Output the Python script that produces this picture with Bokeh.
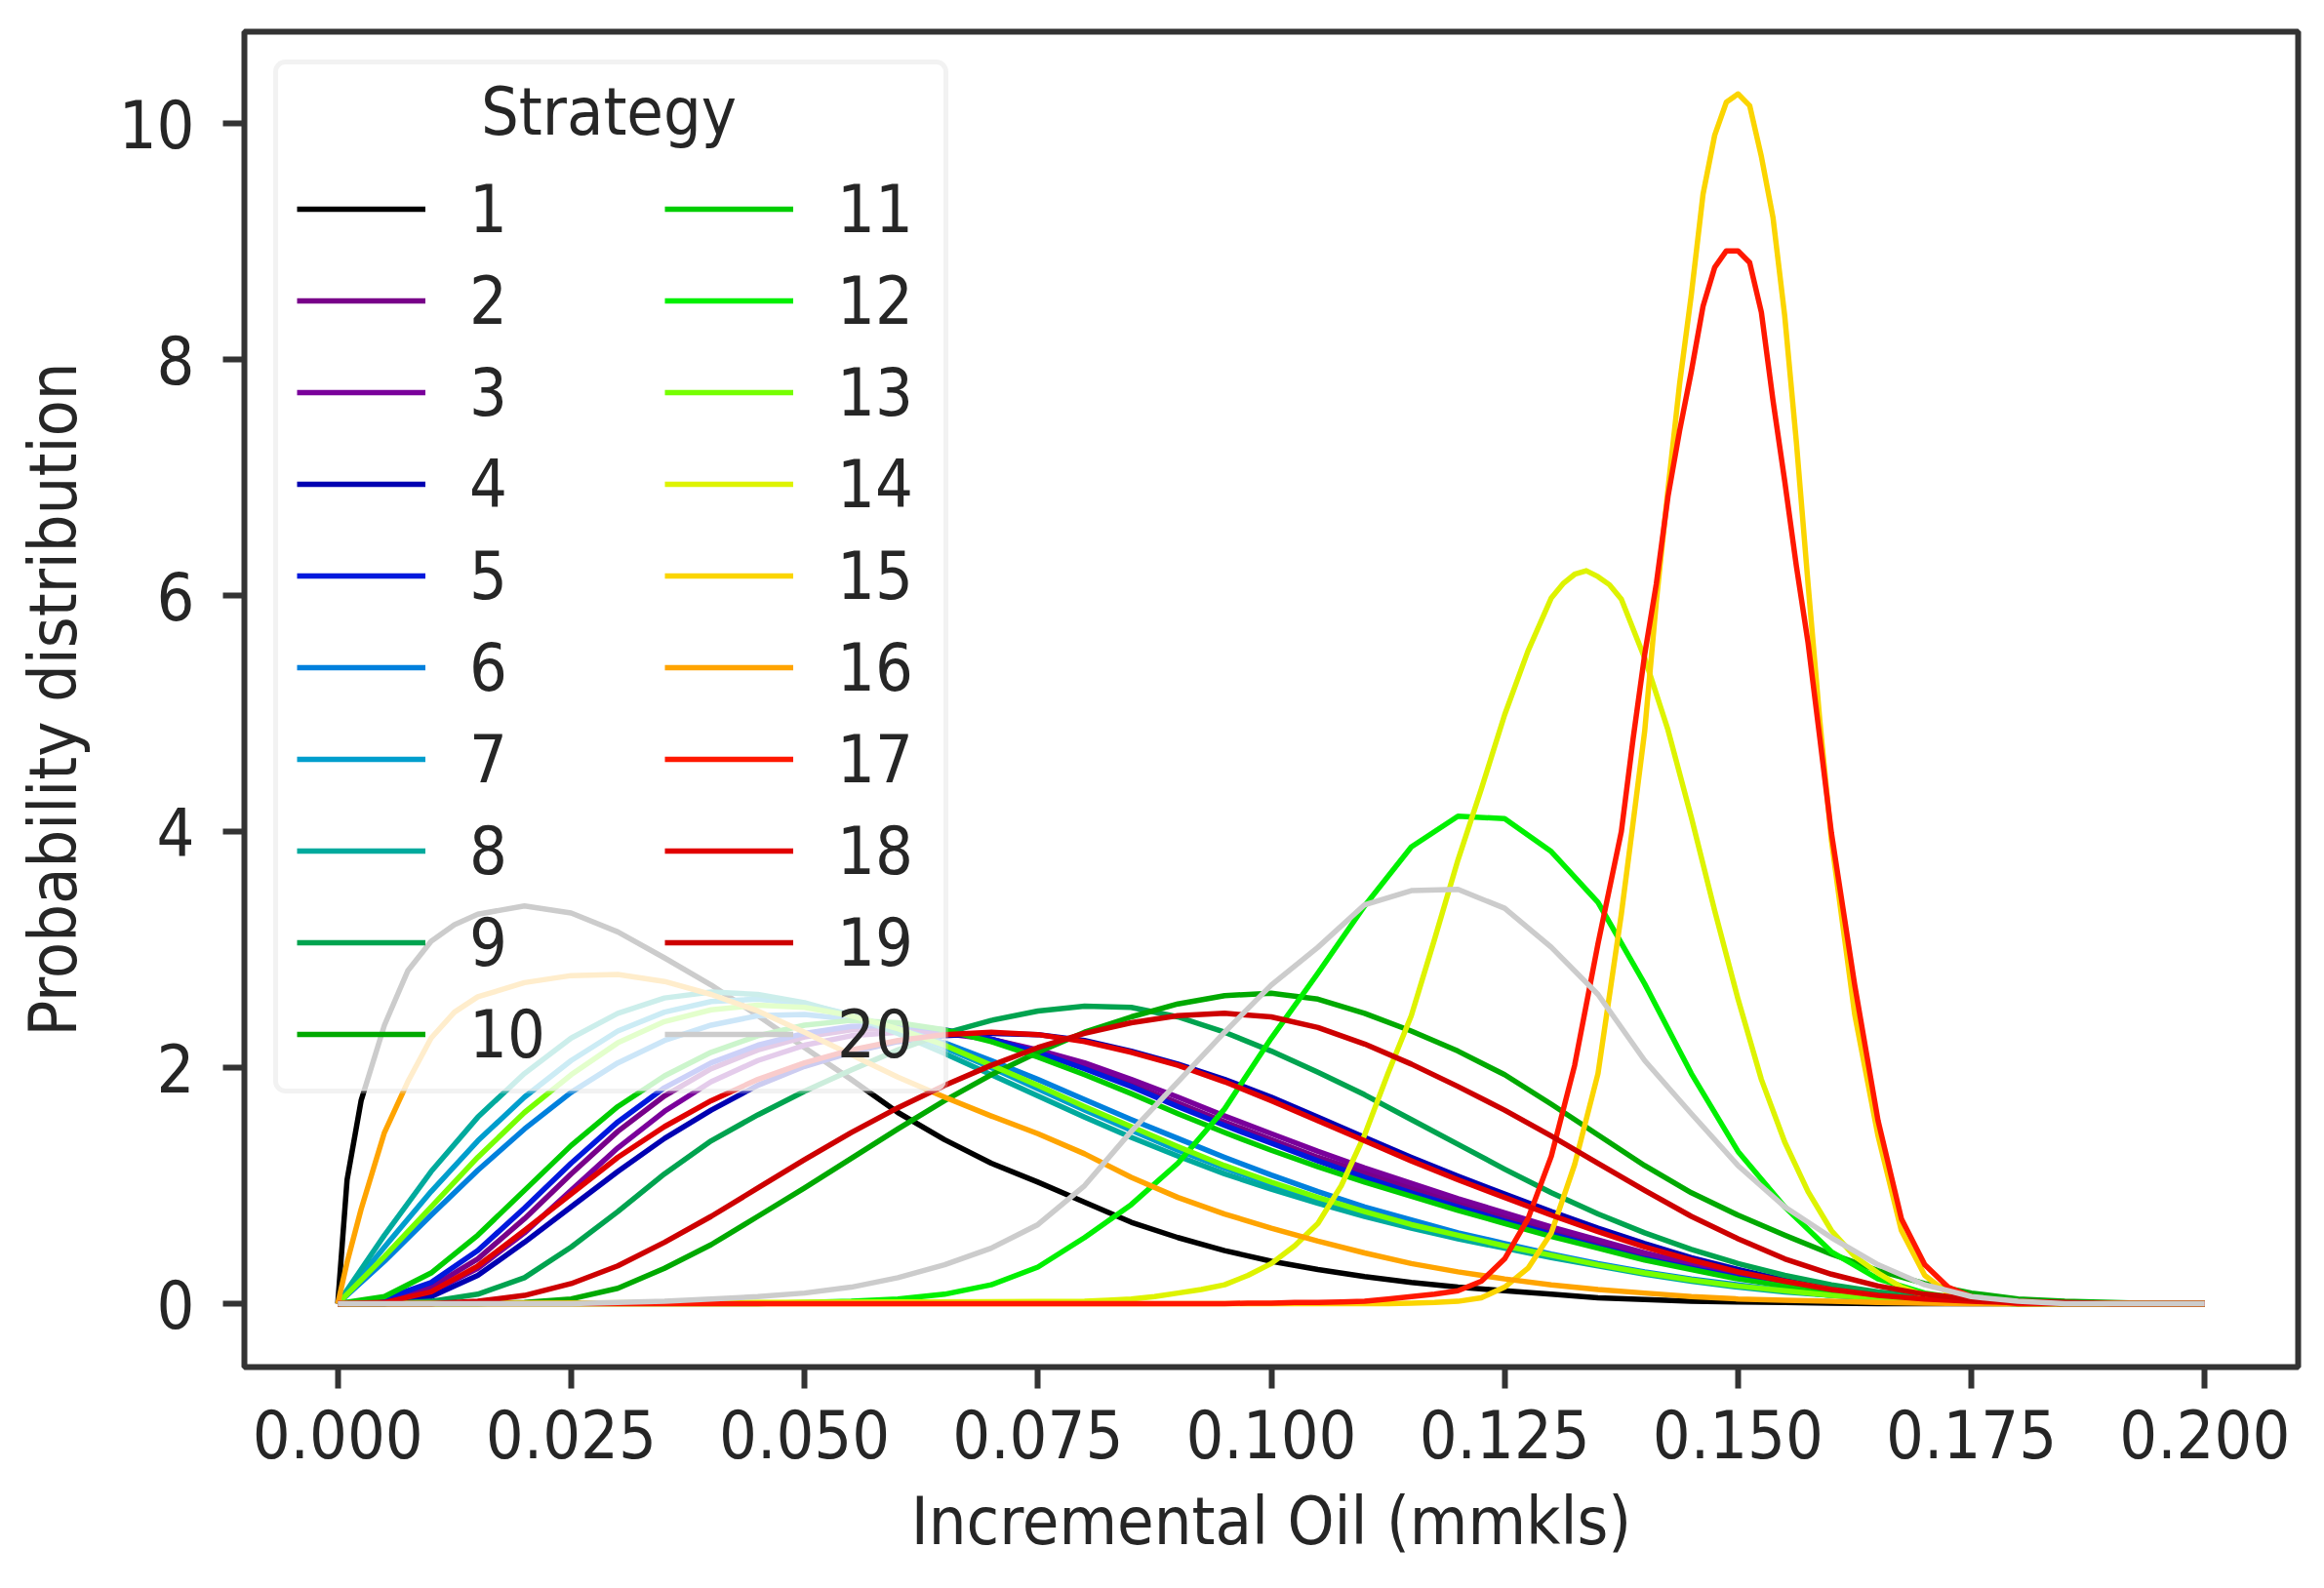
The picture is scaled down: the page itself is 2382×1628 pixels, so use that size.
from bokeh.plotting import figure
from bokeh.models import (Legend, LegendItem, BoxAnnotation, Label, FixedTicker,
                          PrintfTickFormatter, Range1d)
from bokeh.embed import file_html
from bokeh.resources import INLINE

# ---------------- data ----------------
# common sample grid for the broad curves
x_grid = [0.0, 0.005, 0.01, 0.015, 0.02, 0.025, 0.03, 0.035, 0.04, 0.045,
          0.05, 0.055, 0.06, 0.065, 0.07, 0.075, 0.08, 0.085, 0.09, 0.095,
          0.1, 0.105, 0.11, 0.115, 0.12, 0.125, 0.13, 0.135, 0.14, 0.145,
          0.15, 0.155, 0.16, 0.165, 0.17, 0.175, 0.18, 0.185, 0.19, 0.195, 0.2]
# denser start for the curves that rise steeply at zero
x_left = [0.0, 0.001, 0.0025, 0.005, 0.0075, 0.01, 0.0125, 0.015,
          0.02, 0.025, 0.03, 0.035, 0.04, 0.045, 0.05, 0.055, 0.06, 0.065,
          0.07, 0.075, 0.08, 0.085, 0.09, 0.095, 0.1, 0.105, 0.11, 0.115,
          0.12, 0.125, 0.13, 0.135, 0.14, 0.145, 0.15, 0.155, 0.16, 0.165,
          0.17, 0.175, 0.18, 0.185, 0.19, 0.195, 0.2]
# denser grid for the yellow peak (strategy 14)
x_mid_peak = [0.0,
              0.08, 0.0825, 0.085, 0.0875, 0.09, 0.0925, 0.095, 0.0975,
              0.1, 0.1025, 0.105, 0.1075, 0.11, 0.1125, 0.115, 0.1175,
              0.12, 0.1225, 0.125, 0.1275, 0.13, 0.13125, 0.1325, 0.13375,
              0.135, 0.13625, 0.1375,
              0.14, 0.1425, 0.145, 0.1475, 0.15, 0.1525, 0.155, 0.1575,
              0.16, 0.1625, 0.165, 0.1675, 0.17, 0.1725, 0.175, 0.1775,
              0.18, 0.2]
# densest grid for the two tall spikes (strategies 15 and 17)
x_spike = [0.0,
           0.08, 0.0825, 0.085, 0.0875, 0.09, 0.0925, 0.095, 0.0975,
           0.1, 0.1025, 0.105, 0.1075, 0.11, 0.1125, 0.115, 0.1175,
           0.12, 0.1225, 0.125, 0.1275, 0.13, 0.1325, 0.135, 0.1375,
           0.13875, 0.14, 0.14125, 0.1425, 0.14375, 0.145, 0.14625, 0.1475,
           0.14875, 0.15, 0.15125, 0.1525, 0.15375, 0.155, 0.15625, 0.1575,
           0.15875, 0.16, 0.1625, 0.165, 0.1675, 0.17, 0.1725, 0.175, 0.1775,
           0.18, 0.2]

s1 = [0, 1.05, 1.72, 2.36, 2.82, 3.07, 3.21, 3.30,
      3.37, 3.31, 3.15, 2.93, 2.70, 2.44, 2.17, 1.90, 1.62, 1.39, 1.19, 1.03,
      0.86, 0.69, 0.56, 0.45, 0.36, 0.29, 0.23, 0.18, 0.14, 0.11, 0.08, 0.05,
      0.035, 0.02, 0.015, 0.01, 0.005, 0, 0, 0, 0, 0, 0, 0, 0]
s2 = [0, 0.03, 0.14, 0.38, 0.72, 1.10, 1.46, 1.76, 1.99, 2.15, 2.26, 2.32, 2.34,
      2.31, 2.24, 2.14, 2.01, 1.86, 1.70, 1.54, 1.39, 1.24, 1.11, 0.98, 0.86,
      0.74, 0.62, 0.51, 0.41, 0.32, 0.24, 0.17, 0.11, 0.07, 0.04, 0.02, 0.01,
      0, 0, 0, 0]
s3 = [0, 0.02, 0.10, 0.30, 0.60, 0.96, 1.32, 1.63, 1.88, 2.06, 2.19, 2.27, 2.30,
      2.29, 2.24, 2.15, 2.04, 1.90, 1.75, 1.59, 1.44, 1.29, 1.15, 1.02, 0.89,
      0.77, 0.65, 0.54, 0.43, 0.34, 0.26, 0.18, 0.12, 0.08, 0.05, 0.02, 0.01,
      0, 0, 0, 0]
s4 = [0, 0, 0.06, 0.24, 0.52, 0.82, 1.12, 1.40, 1.64, 1.85, 2.01, 2.13, 2.22,
      2.27, 2.29, 2.28, 2.23, 2.14, 2.03, 1.90, 1.75, 1.58, 1.41, 1.24, 1.08,
      0.93, 0.78, 0.64, 0.51, 0.39, 0.29, 0.20, 0.13, 0.08, 0.04, 0.02, 0.01,
      0, 0, 0, 0]
s5 = [0, 0.04, 0.18, 0.45, 0.81, 1.19, 1.54, 1.83, 2.04, 2.19, 2.29, 2.35, 2.36,
      2.32, 2.24, 2.13, 1.99, 1.84, 1.67, 1.51, 1.36, 1.21, 1.07, 0.94, 0.82,
      0.70, 0.59, 0.48, 0.38, 0.30, 0.22, 0.15, 0.10, 0.06, 0.03, 0.02, 0.01,
      0, 0, 0, 0]
s6 = [0, 0.36, 0.75, 1.13, 1.48, 1.79, 2.04, 2.23, 2.36, 2.44, 2.45, 2.41, 2.33,
      2.21, 2.06, 1.90, 1.73, 1.56, 1.40, 1.24, 1.09, 0.95, 0.82, 0.71, 0.60,
      0.51, 0.42, 0.34, 0.27, 0.21, 0.16, 0.11, 0.08, 0.05, 0.03, 0.01, 0,
      0, 0, 0, 0]
s7 = [0, 0.48, 0.95, 1.38, 1.75, 2.06, 2.31, 2.47, 2.56, 2.58, 2.54, 2.45, 2.32,
      2.17, 2.00, 1.82, 1.64, 1.47, 1.30, 1.15, 1.01, 0.88, 0.77, 0.66, 0.57,
      0.48, 0.40, 0.33, 0.26, 0.20, 0.15, 0.11, 0.07, 0.05, 0.03, 0.01, 0,
      0, 0, 0, 0]
s8 = [0, 0.58, 1.12, 1.58, 1.95, 2.25, 2.46, 2.59, 2.64, 2.62, 2.55, 2.44, 2.29,
      2.12, 1.94, 1.76, 1.58, 1.41, 1.25, 1.10, 0.97, 0.85, 0.74, 0.64, 0.55,
      0.47, 0.39, 0.32, 0.25, 0.19, 0.14, 0.10, 0.07, 0.04, 0.02, 0.01, 0,
      0, 0, 0, 0]
s9 = [0, 0, 0.02, 0.08, 0.22, 0.48, 0.78, 1.10, 1.38, 1.60, 1.80, 1.98, 2.15,
      2.29, 2.40, 2.48, 2.52, 2.51, 2.43, 2.30, 2.14, 1.96, 1.77, 1.56, 1.35,
      1.14, 0.94, 0.76, 0.60, 0.46, 0.34, 0.24, 0.16, 0.10, 0.06, 0.03, 0.01,
      0, 0, 0, 0]
s10 = [0, 0, 0, 0, 0.01, 0.04, 0.13, 0.30, 0.50, 0.74, 0.98, 1.23, 1.48,
       1.72, 1.94, 2.13, 2.30, 2.43, 2.54, 2.61, 2.63, 2.58, 2.46, 2.31, 2.14,
       1.94, 1.69, 1.43, 1.17, 0.94, 0.75, 0.58, 0.42, 0.28, 0.17, 0.09, 0.04,
       0.02, 0.01, 0, 0]
s11 = [0, 0.06, 0.26, 0.58, 0.96, 1.34, 1.67, 1.93, 2.13, 2.27, 2.36, 2.40, 2.38,
       2.32, 2.22, 2.09, 1.94, 1.78, 1.61, 1.45, 1.30, 1.16, 1.03, 0.91, 0.79,
       0.68, 0.57, 0.47, 0.37, 0.29, 0.21, 0.15, 0.10, 0.06, 0.03, 0.02, 0.01,
       0, 0, 0, 0]
s12 = [0, 0, 0, 0, 0, 0, 0, 0, 0, 0, 0.01, 0.02, 0.04,
       0.08, 0.16, 0.31, 0.56, 0.84, 1.19, 1.65, 2.25, 2.80, 3.37, 3.87, 4.13,
       4.11, 3.83, 3.40, 2.71, 1.95, 1.29, 0.82, 0.44, 0.21, 0.09, 0.03, 0.01,
       0, 0, 0, 0]
s13 = [0, 0.40, 0.82, 1.24, 1.62, 1.94, 2.21, 2.39, 2.49, 2.53, 2.51, 2.44, 2.33,
       2.19, 2.02, 1.85, 1.67, 1.50, 1.33, 1.17, 1.03, 0.90, 0.78, 0.67, 0.58,
       0.49, 0.41, 0.33, 0.26, 0.20, 0.15, 0.11, 0.07, 0.05, 0.03, 0.01, 0,
       0, 0, 0, 0]
s14 = [0,
       0.02, 0.03, 0.04, 0.06, 0.09, 0.12, 0.16, 0.24,
       0.34, 0.49, 0.68, 1.00, 1.43, 1.95, 2.44, 3.09,
       3.76, 4.36, 4.99, 5.53, 5.98, 6.10, 6.18, 6.21,
       6.16, 6.09, 5.97,
       5.47, 4.86, 4.12, 3.33, 2.58, 1.90, 1.37, 0.95,
       0.62, 0.40, 0.26, 0.14, 0.07, 0.03, 0.01, 0,
       0, 0]
s15 = [0,
       0, 0, 0, 0, 0, 0, 0, 0,
       0, 0, 0, 0, 0, 0, 0.005, 0.01,
       0.02, 0.05, 0.14, 0.30, 0.60, 1.18, 1.95, 3.30,
       4.07, 4.85, 5.95, 6.90, 7.80, 8.55, 9.40, 9.90,
       10.18, 10.25, 10.15, 9.72, 9.20, 8.37, 7.30, 6.10,
       4.95, 3.93, 2.45, 1.42, 0.62, 0.24, 0.09, 0.03, 0.01,
       0, 0]
s16 = [0, 0.35, 0.80, 1.45, 1.88, 2.25, 2.47, 2.60,
       2.72, 2.78, 2.79, 2.73, 2.62, 2.48, 2.30, 2.11, 1.92, 1.75, 1.59, 1.44,
       1.27, 1.07, 0.90, 0.76, 0.64, 0.53, 0.43, 0.34, 0.27, 0.21, 0.16, 0.12,
       0.09, 0.06, 0.04, 0.03, 0.02, 0.01, 0.005, 0, 0, 0, 0, 0, 0]
s17 = [0,
       0, 0, 0, 0, 0, 0, 0, 0.005,
       0.005, 0.01, 0.01, 0.015, 0.02, 0.04, 0.06, 0.08,
       0.11, 0.19, 0.38, 0.72, 1.25, 2.02, 3.05, 4.00,
       4.78, 5.50, 6.10, 6.84, 7.40, 7.90, 8.45, 8.78,
       8.92, 8.92, 8.82, 8.40, 7.65, 6.97, 6.25, 5.60,
       4.80, 3.99, 2.70, 1.55, 0.72, 0.33, 0.14, 0.06, 0.02,
       0, 0]
s18 = [0, 0.01, 0.10, 0.32, 0.62, 0.93, 1.24, 1.50, 1.72, 1.90, 2.04, 2.15, 2.23,
       2.28, 2.30, 2.28, 2.22, 2.13, 2.02, 1.88, 1.72, 1.55, 1.38, 1.21, 1.05,
       0.90, 0.75, 0.61, 0.48, 0.37, 0.27, 0.19, 0.12, 0.07, 0.04, 0.02, 0.01,
       0, 0, 0, 0]
s19 = [0, 0, 0, 0.02, 0.07, 0.17, 0.32, 0.52, 0.74, 0.98, 1.22, 1.45, 1.66,
       1.85, 2.02, 2.17, 2.29, 2.38, 2.44, 2.46, 2.43, 2.34, 2.20, 2.03, 1.84,
       1.64, 1.42, 1.19, 0.96, 0.74, 0.55, 0.38, 0.25, 0.15, 0.08, 0.04, 0.02,
       0.01, 0, 0, 0]
s20 = [0, 0, 0, 0, 0, 0, 0.01, 0.02, 0.04, 0.06, 0.09, 0.14, 0.22,
       0.33, 0.47, 0.67, 1.00, 1.46, 1.88, 2.30, 2.70, 3.02, 3.38, 3.50, 3.51,
       3.35, 3.02, 2.62, 2.06, 1.61, 1.17, 0.82, 0.56, 0.33, 0.16, 0.06, 0.02,
       0, 0, 0, 0]

strategy_labels = ["1", "2", "3", "4", "5", "6", "7", "8", "9", "10",
                   "11", "12", "13", "14", "15", "16", "17", "18", "19", "20"]
x_ticks = [0.0, 0.025, 0.05, 0.075, 0.1, 0.125, 0.15, 0.175, 0.2]
y_ticks = [0, 2, 4, 6, 8, 10]

# ---------------- style ----------------
colors = ["#000000", "#780089", "#7a009b", "#0000b2", "#0019dd", "#0080dd",
          "#009ecd", "#00aa9d", "#00a34f", "#00a900", "#00cd00", "#00f000",
          "#76ff00", "#def300", "#fbd500", "#ffa400", "#ff1800", "#e10000",
          "#cd0000", "#cccccc"]
FONT = "DejaVu Sans Condensed"
FS = "68px"
TEXT = "#262626"
SPINE = "#333333"

series = [(x_left, s1), (x_grid, s2), (x_grid, s3), (x_grid, s4), (x_grid, s5),
          (x_grid, s6), (x_grid, s7), (x_grid, s8), (x_grid, s9), (x_grid, s10),
          (x_grid, s11), (x_grid, s12), (x_grid, s13), (x_mid_peak, s14),
          (x_spike, s15), (x_left, s16), (x_spike, s17), (x_grid, s18),
          (x_grid, s19), (x_grid, s20)]

W, H = 2382, 1628
p = figure(width=W, height=H, output_backend="svg", toolbar_location=None,
           x_range=Range1d(-0.01, 0.21), y_range=Range1d(-0.537, 10.777),
           min_border_left=250, min_border_right=27, min_border_top=32,
           min_border_bottom=227,
           x_axis_label="Incremental Oil (mmkls)",
           y_axis_label="Probability distribution")

p.background_fill_color = "white"
p.border_fill_color = "white"
p.outline_line_color = SPINE
p.outline_line_width = 6
p.grid.visible = False

p.xaxis.ticker = FixedTicker(ticks=x_ticks)
p.xaxis.formatter = PrintfTickFormatter(format="%.3f")
p.yaxis.ticker = FixedTicker(ticks=y_ticks)
for ax in (p.xaxis[0], p.yaxis[0]):
    ax.axis_line_color = None
    ax.minor_tick_line_color = None
    ax.major_tick_in = 0
    ax.major_tick_out = 22
    ax.major_tick_line_width = 6
    ax.major_tick_line_color = SPINE
    ax.major_label_text_font = FONT
    ax.major_label_text_font_size = FS
    ax.major_label_text_color = TEXT
    ax.axis_label_text_font = FONT
    ax.axis_label_text_font_size = FS
    ax.axis_label_text_font_style = "normal"
    ax.axis_label_text_color = TEXT
p.xaxis.major_label_standoff = 21
p.yaxis.major_label_standoff = 29
p.xaxis.axis_label_standoff = 22
p.yaxis.axis_label_standoff = 25

renderers = []
for (xs, ys), c in zip(series, colors):
    r = p.line(xs, ys, line_color=c, line_width=5.5, line_join="round")
    renderers.append(r)

# legend frame (semi-transparent white box, light grey rounded border)
box = BoxAnnotation(left=32, right=719, bottom=283, top=1338,
                    left_units="screen", right_units="screen",
                    bottom_units="screen", top_units="screen",
                    fill_color="white", fill_alpha=0.8,
                    line_color="#d5d5d5", line_width=5, border_radius=10)
p.add_layout(box)

title = Label(x=373.5, y=1287, x_units="screen", y_units="screen",
              text="Strategy", text_align="center", text_baseline="alphabetic",
              text_font=FONT, text_font_size=FS, text_color=TEXT)
p.add_layout(title)

items = [LegendItem(label=lab, renderers=[r]) for lab, r in zip(strategy_labels, renderers)]
legend = Legend(items=items, location=(54, 301), ncols=2, orientation="vertical",
                padding=0, margin=0, spacing=14,
                glyph_width=132, glyph_height=80, label_standoff=45,
                label_width=186, label_height=80,
                label_text_font=FONT, label_text_font_size=FS,
                label_text_color=TEXT,
                border_line_alpha=0, background_fill_alpha=0)
p.add_layout(legend, "center")

open("out.html", "w").write(file_html(p, INLINE))
